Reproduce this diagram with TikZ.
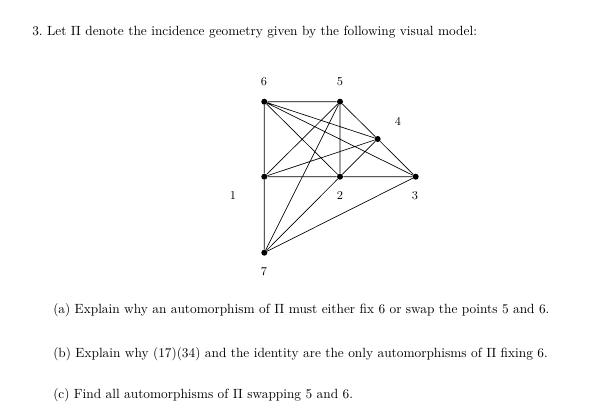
\documentclass[tikz,border=0pt]{standalone}
\begin{document}
\begin{tikzpicture}[x=0.75pt,y=-0.75pt,
  pt/.style={circle,fill,inner sep=0pt,minimum size=4.5pt},
  lab/.style={font=\small},
  txt/.style={anchor=west,inner sep=0pt},
  edge/.style={line width=0.5pt}]
\useasboundingbox (0,0) rectangle (615,410);
\node[pt] (p6) at (264.3,101.7) {};
\node[pt] (p5) at (340,101.7) {};
\node[pt] (p4) at (377.7,139) {};
\node[pt] (p1) at (264.3,176.7) {};
\node[pt] (p2) at (340,176.7) {};
\node[pt] (p3) at (415.7,176.7) {};
\node[pt] (p7) at (264.3,252.7) {};
\node[lab] at (264,82) {6};
\node[lab] at (340,82) {5};
\node[lab] at (398,121) {4};
\node[lab] at (233,196) {1};
\node[lab] at (340,196) {2};
\node[lab] at (415,196) {3};
\node[lab] at (264,272) {7};
\draw[edge] (p6)--(p5) (p6)--(p1) (p6)--(p2) (p6)--(p4) (p6)--(p3)
 (p5)--(p1) (p5)--(p7) (p5)--(p2) (p5)--(p4) (p4)--(p3)
 (p1)--(p4) (p1)--(p2) (p2)--(p3) (p1)--(p7) (p4)--(p2) (p2)--(p7) (p3)--(p7);
\node[txt] (t0) at (32,32) {3.\ Let $\Pi$ denote the incidence geometry given by the following visual model:};
\node[txt] (ta) at (53,310) {(a) Explain why an automorphism of $\Pi$ must either fix 6 or swap the points 5 and 6.};
\node[txt] (tb) at (53,354) {(b) Explain why (17)(34) and the identity are the only automorphisms of $\Pi$ fixing 6.};
\node[txt] (tc) at (53,395) {(c) Find all automorphisms of $\Pi$ swapping 5 and 6.};
\end{tikzpicture}
\end{document}
